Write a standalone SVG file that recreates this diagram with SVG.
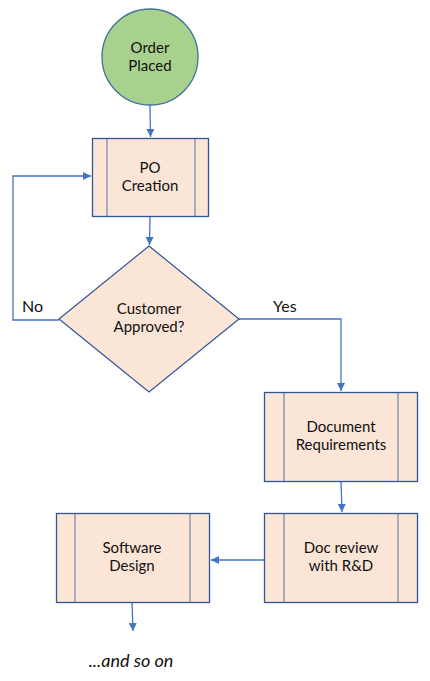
<svg xmlns="http://www.w3.org/2000/svg" width="430" height="681" viewBox="0 0 430 681">
<style>
.proc{fill:#fbe5d6;stroke:#2f5597;stroke-width:1.3}
.inner{stroke:#2f5597;stroke-width:1;fill:none;opacity:0.8}
.lbl{font-family:Lato,"Liberation Sans",sans-serif;font-size:15px;fill:#111;text-anchor:middle}
.edge{font-family:Lato,"Liberation Sans",sans-serif;font-size:16px;fill:#111}
.more{font-family:Lato,"Liberation Sans",sans-serif;font-size:18px;font-style:italic;fill:#111;text-anchor:middle}
.conn{stroke:#4472c4;stroke-width:1.3;fill:none;marker-end:url(#ah)}
</style>
<defs>
<marker id="ah" markerWidth="8" markerHeight="8" viewBox="0 0 8 8" refX="8" refY="4" orient="auto" markerUnits="userSpaceOnUse">
<path d="M0,0 L8,4 L0,8 Z" fill="#4472c4"/>
</marker>
</defs>
<rect width="430" height="681" fill="#fff"/>
<g id="connectors">
<path class="conn" d="M150,105 L150.5,137"/>
<path class="conn" d="M150,216 L149.5,245"/>
<path class="conn" d="M59,320 L13,320 L13,176 L91,176"/>
<path class="conn" d="M239,319 L341,319 L341,391"/>
<path class="conn" d="M341,481 L342,512"/>
<path class="conn" d="M264,560 L211,560"/>
<path class="conn" d="M132,602 L133,631"/>
</g>
<g id="order-placed">
<circle cx="150" cy="57" r="48" fill="#a9d18e" stroke="#41719c" stroke-width="1.3"/>
<text class="lbl" x="150" y="53">Order</text>
<text class="lbl" x="150" y="71">Placed</text>
</g>
<g id="po-creation">
<rect class="proc" x="92.5" y="138.5" width="116" height="78"/>
<line class="inner" x1="107" y1="138.5" x2="107" y2="216.5"/>
<line class="inner" x1="195" y1="138.5" x2="195" y2="216.5"/>
<text class="lbl" x="150" y="173">PO</text>
<text class="lbl" x="150" y="191">Creation</text>
</g>
<g id="customer-approved">
<polygon points="149,246 239,319 149,392 59,319" fill="#fbe5d6" stroke="#2f5597" stroke-width="1.2"/>
<text class="lbl" x="149" y="314">Customer</text>
<text class="lbl" x="149" y="332">Approved?</text>
</g>
<text class="edge" x="22" y="312">No</text>
<text class="edge" x="273" y="312">Yes</text>
<g id="document-requirements">
<rect class="proc" x="264.5" y="392.5" width="153" height="89"/>
<line class="inner" x1="284" y1="392.5" x2="284" y2="481.5"/>
<line class="inner" x1="398" y1="392.5" x2="398" y2="481.5"/>
<text class="lbl" x="341" y="432">Document</text>
<text class="lbl" x="341" y="450">Requirements</text>
</g>
<g id="doc-review">
<rect class="proc" x="264.5" y="513.5" width="153" height="89"/>
<line class="inner" x1="284" y1="513.5" x2="284" y2="602.5"/>
<line class="inner" x1="398" y1="513.5" x2="398" y2="602.5"/>
<text class="lbl" x="341" y="553">Doc review</text>
<text class="lbl" x="341" y="571">with R&amp;D</text>
</g>
<g id="software-design">
<rect class="proc" x="56.5" y="513.5" width="153" height="89"/>
<line class="inner" x1="75" y1="513.5" x2="75" y2="602.5"/>
<line class="inner" x1="190" y1="513.5" x2="190" y2="602.5"/>
<text class="lbl" x="132" y="553">Software</text>
<text class="lbl" x="132" y="571">Design</text>
</g>
<text class="more" x="131" y="667">...and so on</text>
</svg>
